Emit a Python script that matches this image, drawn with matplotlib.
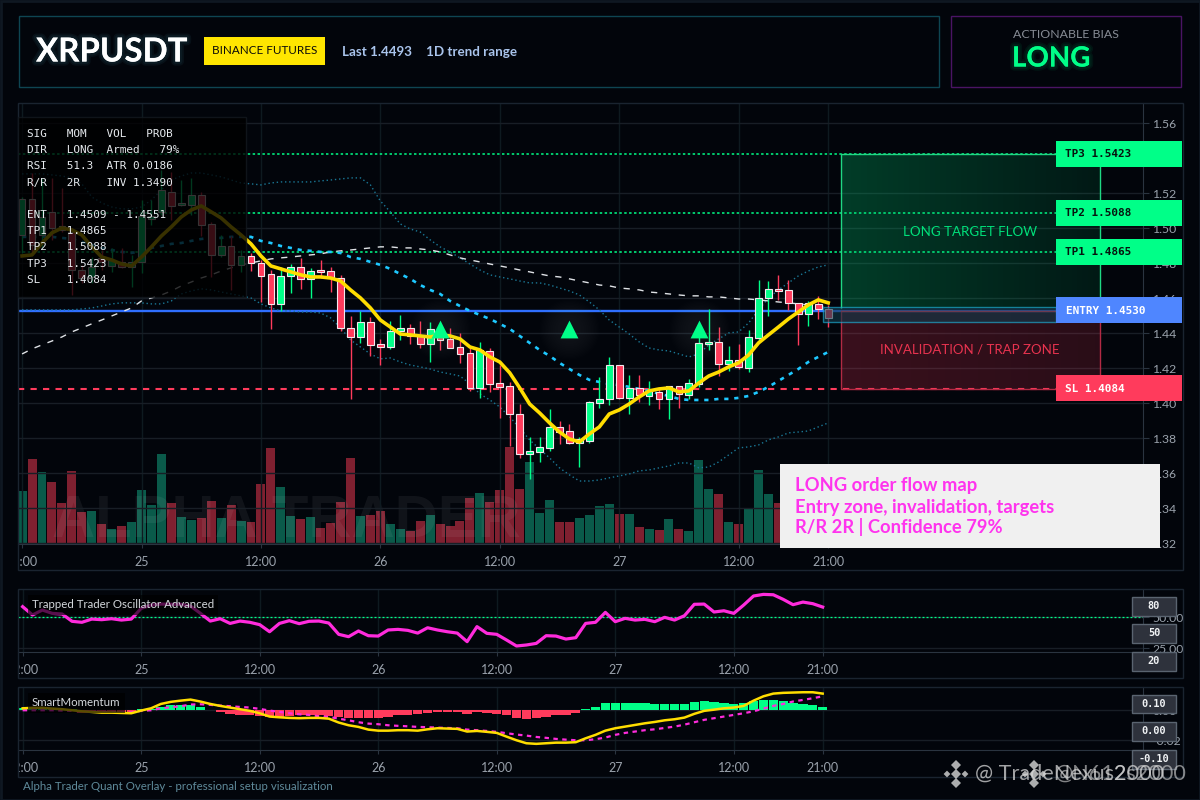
#!/usr/bin/env python
import matplotlib
matplotlib.use("Agg")
import matplotlib.pyplot as plt
import matplotlib.patheffects as pe
from matplotlib.patches import Rectangle
import numpy as np

# ---- candles, one per hour, hour 0 = day 25 00:00
opens = [1.4962,1.5168,1.4962,1.5094,1.5014,1.4979,1.4762,1.4722,1.4831,1.4785,1.4808,1.4779,
         1.4808,1.5054,1.5094,1.5208,1.5134,1.5134,1.5191,1.5025,1.4848,1.4899,1.4791,1.4842,
         1.4802,1.4739,1.4568,1.4728,1.4779,1.4711,1.4756,1.4756,1.4716,1.4431,1.4379,1.4465,
         1.4339,1.4322,1.4414,1.4431,1.4385,1.4339,1.4379,1.4368,1.4322,1.4288,1.4088,1.4299,
         1.4116,1.4099,1.3939,1.3711,1.3722,1.3745,1.3865,1.3842,1.3774,1.3785,1.4002,1.4025,
         1.4219,1.4031,1.4088,1.4042,1.4065,1.4025,1.4099,1.4048,1.4111,1.4339,1.4351,1.4225,
         1.4248,1.4202,1.4374,1.4602,1.4654,1.4648,1.4574,1.4511,1.4568,1.4539]
highs = [1.5179,1.5316,1.5288,1.5288,1.5231,1.5002,1.4791,1.4836,1.4876,1.4888,1.4888,1.4848,
         1.5162,1.5162,1.5334,1.5322,1.5276,1.5288,1.5208,1.5036,1.4962,1.4956,1.4876,1.4859,
         1.4819,1.4762,1.4779,1.4796,1.4831,1.4774,1.4819,1.4779,1.4734,1.4499,1.4528,1.4494,
         1.4368,1.4471,1.4505,1.4454,1.4471,1.4465,1.4431,1.4431,1.4402,1.4322,1.4351,1.4316,
         1.4219,1.4122,1.3996,1.3808,1.3808,1.3968,1.3899,1.3882,1.3808,1.4014,1.4151,1.4265,
         1.4219,1.4162,1.4162,1.4128,1.4094,1.4099,1.4099,1.4139,1.4391,1.4539,1.4436,1.4328,
         1.4339,1.4419,1.4705,1.4699,1.4734,1.4705,1.4574,1.4585,1.4614,1.4562]
lows = [1.4859,1.4859,1.4888,1.4934,1.4979,1.4619,1.4688,1.4688,1.4762,1.4751,1.4774,1.4665,
        1.4745,1.5019,1.5076,1.5048,1.5128,1.5076,1.4956,1.4722,1.4836,1.4648,1.4751,1.4756,
        1.4579,1.4425,1.4528,1.4631,1.4654,1.4602,1.4716,1.4636,1.4414,1.4025,1.4345,1.4271,
        1.4219,1.4311,1.4362,1.4339,1.4316,1.4236,1.4305,1.4316,1.4231,1.4071,1.4031,1.4065,
        1.3916,1.3756,1.3688,1.3568,1.3665,1.3728,1.3768,1.3768,1.3636,1.3774,1.3974,1.3991,
        1.4025,1.3939,1.4008,1.3991,1.3968,1.3911,1.3974,1.4025,1.4094,1.4305,1.4156,1.4185,
        1.4196,1.4179,1.4351,1.4499,1.4591,1.4534,1.4334,1.4442,1.4482,1.4436]
closes = [1.5168,1.4905,1.5065,1.5002,1.4991,1.4762,1.4716,1.4779,1.4808,1.4819,1.4779,1.4808,
          1.5071,1.5071,1.5219,1.5128,1.5139,1.5191,1.5019,1.4848,1.4899,1.4791,1.4842,1.4802,
          1.4728,1.4568,1.4728,1.4779,1.4711,1.4756,1.4751,1.4716,1.4431,1.4379,1.4465,1.4334,
          1.4322,1.4414,1.4431,1.4385,1.4339,1.4425,1.4362,1.4316,1.4282,1.4088,1.4305,1.4111,
          1.4094,1.3939,1.3711,1.3728,1.3751,1.3865,1.3836,1.3774,1.3796,1.4008,1.4025,1.4219,
          1.4031,1.4088,1.4048,1.4071,1.4025,1.4099,1.4054,1.4116,1.4345,1.4351,1.4225,1.4248,
          1.4208,1.4379,1.4602,1.4654,1.4642,1.4574,1.4511,1.4574,1.4539,1.4488]
volumes = [53,85,72,62,41,73,32,33,20,15,18,22,
           54,39,90,41,27,24,26,43,26,39,23,22,
           60,96,57,28,25,27,16,21,42,86,28,29,
           33,20,15,13,23,29,20,18,23,46,51,42,
           54,97,55,82,31,44,22,22,26,29,38,40,
           30,30,17,15,14,25,15,13,84,55,50,22,
           20,36,74,50,41,30,25,38,22,12]

# ---- overlays on the price pane
ema_fast = [1.4842,1.4848,1.4916,1.4974,1.5002,1.4991,1.4962,1.4894,1.4836,1.4819,1.4796,1.4785,
            1.4836,1.4894,1.4956,1.5008,1.5065,1.5105,1.5128,1.5094,1.5059,1.5008,1.4962,1.4911,
            1.4842,1.4785,1.4768,1.4751,1.4734,1.4722,1.4722,1.4716,1.4699,1.4648,1.4602,1.4545,
            1.4476,1.4436,1.4396,1.4391,1.4385,1.4379,1.4391,1.4385,1.4368,1.4322,1.4305,1.4265,
            1.4236,1.4174,1.4088,1.3996,1.3945,1.3888,1.3836,1.3796,1.3779,1.3825,1.3865,1.3939,
            1.3962,1.3996,1.4036,1.4071,1.4082,1.4088,1.4065,1.4071,1.4116,1.4156,1.4179,1.4208,
            1.4231,1.4276,1.4345,1.4391,1.4436,1.4482,1.4522,1.4562,1.4591,1.4574]
band_mid = [1.4951,1.4951,1.4951,1.4951,1.4945,1.4939,1.4922,1.4905,1.4888,1.4876,1.4865,1.4859,
            1.4871,1.4888,1.4899,1.4911,1.4916,1.4928,1.4939,1.4945,1.4945,1.4951,1.4951,1.4951,
            1.4928,1.4916,1.4899,1.4888,1.4876,1.4871,1.4865,1.4865,1.4859,1.4836,1.4825,1.4808,
            1.4791,1.4768,1.4739,1.4711,1.4676,1.4648,1.4625,1.4585,1.4556,1.4528,1.4505,1.4482,
            1.4454,1.4425,1.4385,1.4345,1.4305,1.4271,1.4231,1.4196,1.4162,1.4134,1.4122,1.4111,
            1.4105,1.4094,1.4082,1.4071,1.4054,1.4042,1.4025,1.4019,1.4019,1.4019,1.4025,1.4025,
            1.4031,1.4042,1.4065,1.4094,1.4128,1.4162,1.4196,1.4236,1.4265,1.4293]
band_up = [1.5311,1.5311,1.5311,1.5305,1.5299,1.5288,1.5254,1.5179,1.5145,1.5122,1.5111,1.5111,
           1.5122,1.5162,1.5219,1.5276,1.5299,1.5316,1.5316,1.5305,1.5294,1.5276,1.5259,1.5254,
           1.5248,1.5259,1.5265,1.5265,1.5265,1.5265,1.5271,1.5276,1.5282,1.5288,1.5288,1.5248,
           1.5156,1.5094,1.5025,1.4996,1.4979,1.4934,1.4894,1.4865,1.4831,1.4796,1.4762,1.4734,
           1.4722,1.4711,1.4699,1.4688,1.4688,1.4676,1.4659,1.4642,1.4619,1.4579,1.4534,1.4476,
           1.4436,1.4396,1.4351,1.4316,1.4305,1.4299,1.4282,1.4265,1.4282,1.4334,1.4368,1.4402,
           1.4408,1.4459,1.4534,1.4602,1.4648,1.4688,1.4728,1.4756,1.4779,1.4791]
band_low = [1.4534,1.4534,1.4534,1.4534,1.4534,1.4534,1.4539,1.4545,1.4556,1.4568,1.4574,1.4574,
            1.4574,1.4568,1.4568,1.4585,1.4625,1.4642,1.4654,1.4648,1.4636,1.4625,1.4614,1.4602,
            1.4568,1.4545,1.4528,1.4528,1.4522,1.4522,1.4516,1.4488,1.4431,1.4362,1.4322,1.4282,
            1.4254,1.4259,1.4236,1.4219,1.4208,1.4196,1.4179,1.4168,1.4156,1.4111,1.4054,1.4019,
            1.3979,1.3922,1.3859,1.3791,1.3739,1.3688,1.3631,1.3591,1.3556,1.3556,1.3562,1.3574,
            1.3585,1.3596,1.3614,1.3619,1.3631,1.3642,1.3659,1.3659,1.3631,1.3636,1.3665,1.3705,
            1.3745,1.3751,1.3762,1.3791,1.3808,1.3831,1.3836,1.3842,1.3865,1.3888]
ma_long = [1.4282,1.4311,1.4334,1.4356,1.4379,1.4408,1.4431,1.4454,1.4476,1.4499,1.4522,1.4545,
           1.4585,1.4602,1.4619,1.4642,1.4671,1.4693,1.4716,1.4734,1.4756,1.4774,1.4791,1.4802,
           1.4814,1.4825,1.4831,1.4836,1.4842,1.4848,1.4854,1.4865,1.4871,1.4876,1.4882,1.4888,
           1.4894,1.4894,1.4888,1.4888,1.4882,1.4876,1.4865,1.4848,1.4831,1.4819,1.4808,1.4796,
           1.4785,1.4774,1.4762,1.4751,1.4739,1.4728,1.4722,1.4711,1.4699,1.4688,1.4676,1.4671,
           1.4659,1.4654,1.4648,1.4636,1.4631,1.4625,1.4619,1.4614,1.4614,1.4608,1.4608,1.4602,
           1.4596,1.4596,1.4591,1.4585,1.4579,1.4574,1.4568,1.4562,1.4556,1.4551]
signal_hours = [30, 43, 56]
signal_price = [1.4425, 1.4425, 1.4425]

levels = {"TP3": 1.5423, "TP2": 1.5088, "TP1": 1.4865}
entry_price = 1.4530
sl_price = 1.4084

# ---- oscillator pane
osc = [58.6,51.9,55.9,53.2,52.7,46.8,46.0,48.6,48.1,48.9,47.8,48.6,
       57.2,59.9,60.7,60.5,60.5,59.1,53.2,47.0,48.9,45.1,47.0,46.0,
       44.1,38.4,45.1,47.3,44.9,46.8,47.0,45.4,36.3,34.4,39.0,35.2,
       34.9,39.8,40.3,39.5,37.3,41.6,39.8,38.4,37.3,30.4,42.5,37.1,
       36.3,31.7,26.9,27.7,29.0,35.2,34.9,32.5,33.6,45.1,46.0,54.0,
       46.5,49.2,47.8,48.4,46.5,50.0,47.8,51.3,60.5,60.7,54.3,55.3,
       53.2,59.9,67.2,68.5,68.2,64.5,60.2,62.3,61.0,58.3]

# ---- momentum pane
mom_hist = [.0018,.0016,.0016,.0013,.0011,.0009,-.0016,-.0018,-.0018,-.0018,-.0016,-.0013,
            .0007,.0009,.0024,.0033,.0038,.0033,.0024,.0001,-.0011,-.0024,-.0031,-.0031,
            -.0036,-.0042,-.0047,-.0038,-.0033,-.0033,-.0029,-.0036,-.0042,-.0049,-.0049,-.0051,
            -.0051,-.0047,-.0031,-.0031,-.0024,-.002,-.0011,-.0011,-.0011,-.0024,-.0013,-.002,
            -.0027,-.0033,-.0049,-.0058,-.0049,-.0047,-.0031,-.0029,-.002,.0009,.0022,.0049,
            .0049,.0049,.0049,.0049,.0042,.0042,.0042,.0042,.0056,.0062,.0056,.0049,
            .0042,.0049,.0062,.0069,.0069,.0062,.0049,.0042,.0033,.0022]
mom_line = [.0013,.0016,.0016,.0011,.0007,0,-.0007,-.0011,-.0016,-.0016,-.0018,-.002,
            -.0002,.0013,.0042,.0056,.0064,.0071,.0058,.0042,.0029,.0018,.0007,-.0004,
            -.002,-.0042,-.0047,-.0051,-.0053,-.0051,-.0051,-.0056,-.0082,-.01,-.0111,-.0129,
            -.0136,-.0136,-.0133,-.0133,-.0136,-.0127,-.012,-.0122,-.0124,-.0142,-.0138,-.0144,
            -.0151,-.0176,-.02,-.022,-.0224,-.022,-.0216,-.0216,-.0213,-.0187,-.0164,-.0136,
            -.012,-.0109,-.0098,-.0087,-.0078,-.0067,-.006,-.0049,-.0024,-.0004,.0004,.0013,
            .0018,.0029,.0064,.0093,.0111,.0116,.0118,.012,.012,.0111]
mom_signal = [0,0,0,0,-.0002,-.0004,-.0007,-.0009,-.0011,-.0011,-.0013,-.0013,
              -.0004,0,.0013,.002,.0027,.0038,.004,.0036,.0031,.0027,.0022,.0018,
              .0009,-.0002,-.0011,-.002,-.0027,-.0031,-.004,-.0044,-.0056,-.0067,-.008,-.0089,
              -.0093,-.01,-.0104,-.0107,-.0111,-.0113,-.0116,-.0118,-.012,-.0129,-.0133,-.0138,
              -.0144,-.0153,-.0162,-.0169,-.0178,-.0184,-.0191,-.0196,-.02,-.02,-.0193,-.0182,
              -.0164,-.0151,-.0142,-.0133,-.0127,-.0118,-.0109,-.0096,-.008,-.0064,-.0053,-.0042,
              -.0031,-.002,-.0007,.0011,.0029,.0042,.0058,.0069,.008,.0093]

time_ticks = [-12, 0, 12, 24, 36, 48, 60, 69]
time_labels = ["12:00", "25", "12:00", "26", "12:00", "27", "12:00", "21:00"]
price_ticks = [1.32, 1.34, 1.36, 1.38, 1.40, 1.42, 1.44, 1.46, 1.48, 1.50, 1.52, 1.56]

table_rows = [("SIG   MOM   VOL   PROB", 134), ("DIR   LONG  Armed   79%", 150),
              ("RSI   51.3  ATR 0.0186", 166), ("R/R   2R    INV 1.3490", 183),
              ("ENT   1.4509 - 1.4551", 215), ("TP1   1.4865", 231),
              ("TP2   1.5088", 247), ("TP3   1.5423", 264), ("SL    1.4084", 280)]
box_lines = ["LONG order flow map", "Entry zone, invalidation, targets", "R/R 2R | Confidence 79%"]

BG = "#02050b"
RED = "#ff3b5c"
GREEN = "#00ff88"
GRID_H = "#181e26"
GRID_V = "#0e1a20"
AXIS = "#2a3440"
TICK = "#9aa2ac"
UI_FONT = ["Lato", "DejaVu Sans"]
MONO = "DejaVu Sans Mono"

hours = np.arange(-12, -12 + len(closes))


def px_axes(left, top, right, bottom):
    return fig.add_axes([left / 1200, 1 - bottom / 800, (right - left) / 1200, (bottom - top) / 800])


def style_pane(ax, xlim, ylim, yticks, ylabels):
    ax.set_xlim(*xlim)
    ax.set_ylim(*ylim)
    ax.set_facecolor("none")
    for s in ["top", "left"]:
        ax.spines[s].set_visible(False)
    for s in ["right", "bottom"]:
        ax.spines[s].set_color(AXIS)
    ax.set_xticks(time_ticks)
    ax.set_xticklabels(time_labels, fontsize=9.0, color=TICK, family=UI_FONT)
    ax.yaxis.tick_right()
    ax.set_yticks(yticks)
    ax.set_yticklabels(ylabels, fontsize=8.8, color=TICK, family=UI_FONT)
    ax.tick_params(axis="x", length=3, pad=6, color=AXIS)
    ax.tick_params(axis="y", length=4, pad=3, color=AXIS)
    ax.grid(axis="y", color=GRID_H, lw=1)
    ax.grid(axis="x", color=GRID_V, lw=1)
    ax.set_axisbelow(True)


def glow(width, color, alpha=0.1):
    return [pe.withStroke(linewidth=w, foreground=color, alpha=alpha) for w in (width, width * 0.6)]


fig = plt.figure(figsize=(12, 8), dpi=100, facecolor=BG)

# volume goes behind the price pane, scale is independent
ax_vol = px_axes(18, 103, 1142.7, 544)
ax_vol.set_xlim(-12.41, 100.6)
ax_vol.set_ylim(0, 441)
ax_vol.axis("off")
vol_colors = ["#0a5a4a" if c >= o else "#7f2030" for o, c in zip(opens, closes)]
ax_vol.bar(hours, volumes, width=0.9, color=vol_colors, zorder=2)
ax_vol.text(0.03, -0.012, "ALPHA TRADER", transform=ax_vol.transAxes, fontsize=43, fontweight="bold",
            family="Liberation Sans", color="white", alpha=0.06, va="bottom", ha="left", zorder=3, clip_on=True)

ax = px_axes(18, 103, 1142.7, 544)
ax.set_zorder(2)
style_pane(ax, (-12.41, 100.6), (1.3196, 1.5716), price_ticks, ["%.2f" % p for p in price_ticks])

# level lines
for name, price in levels.items():
    ax.axhline(price, color=GREEN, lw=1.1, ls=(0, (1.6, 1.6)), zorder=1.5)
ax.axhline(entry_price, color="#2f6fff", lw=1.7, zorder=1.6)
ax.axhline(sl_price, color=RED, lw=1.5, ls=(0, (3, 3)), zorder=1.6)

ax.plot(hours, band_up, color="#1a7896", lw=1.0, ls=(0, (1, 2)), zorder=2)
ax.plot(hours, band_low, color="#1a7896", lw=1.0, ls=(0, (1, 2)), zorder=2)
ax.plot(hours, ma_long, color="#dfe2e6", lw=1.0, ls=(0, (4.5, 5.5)), zorder=2)
ax.plot(hours, band_mid, color="#1ec8ff", lw=1.9, ls=(0, (1.6, 2.2)), zorder=2)

# candles
for h, o, hi, lo, c in zip(hours, opens, highs, lows, closes):
    col = GREEN if c >= o else RED
    ax.vlines(h, lo, hi, color=col, lw=1.0, zorder=3)
    ax.bar(h, max(abs(c - o), 0.0008), bottom=min(o, c), width=0.68, color=col,
           edgecolor="#f4e8ee", linewidth=0.8, zorder=3.2)

ax.plot(hours, ema_fast, color="#ffdd00", lw=2.6, solid_joinstyle="round", zorder=4)

# signal triangles with a soft halo
for s in np.linspace(300, 1900, 12):
    ax.scatter(signal_hours, signal_price, s=s, color="#9fffd0", alpha=0.008, linewidths=0, zorder=4.5)
ax.scatter(signal_hours, signal_price, s=165, marker="^", color=GREEN, linewidths=0, zorder=5)

ax_osc = px_axes(18, 589.3, 1142.7, 651.7)
style_pane(ax_osc, (-12.47, 101.4), (22.3, 72.6), [25, 50], ["25.00", "50.00"])
ax_osc.axhline(50, color=GREEN, lw=0.9, ls=(0, (1.6, 1.6)), zorder=2)
ax_osc.plot(hours, osc, color="#ff2bdc", lw=2.3, zorder=3)

ax_mom = px_axes(18, 687.3, 1142.7, 750)
style_pane(ax_mom, (-12.47, 101.4), (-0.0265, 0.0153), [-0.02, 0.0], ["-0.02", "0.00"])
hist_colors = [GREEN if v >= 0 else RED for v in mom_hist]
ax_mom.bar(hours, mom_hist, width=0.94, color=hist_colors, zorder=2)
ax_mom.plot(hours, mom_signal, color="#ff2bdc", lw=1.6, ls=(0, (2, 2)), zorder=3)
ax_mom.plot(hours, mom_line, color="#ffdd00", lw=1.8, zorder=4)

# ---- everything below is page furniture, placed in pixels
ov = fig.add_axes([0, 0, 1, 1], zorder=10)
ov.patch.set_visible(False)
ov.axis("off")
ov.set_xlim(0, 1200)
ov.set_ylim(800, 0)


def py(price):
    return ov.transData.inverted().transform(ax.transData.transform((0, price)))[1]


def frame(x0, y0, x1, y1, edge, face="none", lw=1.0, z=1, alpha=None):
    ov.add_patch(Rectangle((x0, y0), x1 - x0, y1 - y0, edgecolor=edge, facecolor=face, lw=lw, zorder=z, alpha=alpha))


def gradient(x0, y0, x1, y1, rgb, a_left, a_right, z=1):
    g = np.zeros((2, 64, 4))
    g[..., :3] = rgb
    g[..., 3] = np.linspace(a_left, a_right, 64)
    ov.imshow(g, extent=(x0, x1, y1, y0), aspect="auto", zorder=z, interpolation="bilinear")


# mask of the clipped first time label and outer frames
for top, bottom in [(545, 569), (653, 677), (751, 775)]:
    frame(2, top, 18, bottom, "none", BG, z=1)
frame(0.5, 0.5, 1199.5, 799.5, "#0f1822", lw=2, z=1)
frame(18, 103, 1182.5, 570, "#1a2430", z=2)
frame(18, 589.3, 1182.5, 678.3, "#1a2430", z=2)
frame(18, 687.3, 1182.5, 776.7, "#1a2430", z=2)

# header
frame(19, 15.5, 939, 86.5, "#0e4552", z=2)
frame(951, 15.5, 1181, 86.5, "#4a1464", z=2)
ov.text(36, 52, "XRPUSDT", fontsize=23.8, fontweight="bold", family=UI_FONT, color="white", va="center",
        path_effects=glow(6, "#66ddff", 0.05))
frame(204, 37, 325, 65, "none", "#ffe600", z=2)
ov.text(264.5, 51, "BINANCE FUTURES", fontsize=8.4, family=UI_FONT, color="#0a0a0a", ha="center", va="center", zorder=3)
ov.text(342, 51.5, "Last 1.4493", fontsize=9.6, family=UI_FONT, color="#a9c4ec", va="center", fontweight="bold")
ov.text(426, 51.5, "1D trend range", fontsize=9.6, family=UI_FONT, color="#a9c4ec", va="center", fontweight="bold")
ov.text(1065.5, 34, "ACTIONABLE BIAS", fontsize=8.9, family=UI_FONT, color="#878c95", ha="center", va="center")
ov.text(1012, 58.5, "LONG", fontsize=20, fontweight="bold", family=UI_FONT, color=GREEN, va="center",
        path_effects=glow(6, GREEN, 0.06))

# dark table over the left of the chart
frame(18, 117, 246, 297, "#141a20", "#000000", z=3, alpha=0.78)
for row, y in table_rows:
    ov.text(27, y, row, fontsize=7.9, family=MONO, color="#e6eaee", va="center", zorder=4)

# target / invalidation zones
y_tp3, y_entry, y_sl = py(levels["TP3"]), py(entry_price), py(sl_price)
gradient(841, y_tp3, 1100, y_entry - 3, (0.0, 0.75, 0.42), 0.3, 0.11, z=2)
gradient(841, y_entry, 1100, y_sl, (1.0, 0.22, 0.36), 0.22, 0.16, z=2)
ov.plot([841, 841, 1100, 1100], [y_entry - 3, y_tp3, y_tp3, y_entry - 3], color="#1fd884", lw=1.0, zorder=3)
ov.plot([841, 841, 1100, 1100], [y_entry, y_sl, y_sl, y_entry], color="#b22a44", lw=1.0, zorder=3)
ov.plot([841, 1056], [y_entry, y_entry], color=RED, lw=0.9, zorder=3)
frame(823, 307.3, 1056, 322.3, "#1fb8e0", "#123a4a", z=3, alpha=0.62)
ov.text(970.5, 232, "LONG TARGET FLOW", fontsize=9.6, family=UI_FONT, color="#00e07a", ha="center", va="center", zorder=4)
ov.text(970, 349, "INVALIDATION / TRAP ZONE", fontsize=9.5, family=UI_FONT, color="#e8334f", ha="center", va="center", zorder=4)

# level tags
for name, price in levels.items():
    y = py(price)
    frame(1056, y - 13, 1182, y + 13, "none", GREEN, z=5)
    ov.text(1065, y, "%s %.4f" % (name, price), fontsize=7.9, family=MONO, color="#06140e", va="center", zorder=6,
            fontweight="bold")
y = py(entry_price)
frame(1056, y - 13.5, 1182, y + 12, "none", "#4f86ff", z=5)
ov.text(1066, y, "ENTRY %.4f" % entry_price, fontsize=7.9, family=MONO, fontweight="bold", color="white", va="center", zorder=6)
y = py(sl_price)
frame(1056, y - 13.5, 1182, y + 12.5, "none", RED, z=5)
ov.text(1065, y, "SL %.4f" % sl_price, fontsize=7.9, family=MONO, fontweight="bold", color="white", va="center", zorder=6)

# white note
frame(780, 464, 1160, 547.7, "none", "#f0f0f0", z=7)
for line, y in zip(box_lines, [486, 507, 527]):
    ov.text(795, y, line, fontsize=13.2, family=UI_FONT, fontweight="bold", color="#ff33ee", va="center", zorder=8)

# pane titles
ov.text(32, 605, "Trapped Trader Oscillator Advanced", fontsize=8.3, family=UI_FONT, color="#d4d8dc", va="center", zorder=6,
        bbox=dict(facecolor="#000000", alpha=0.65, edgecolor="none", pad=3))
ov.text(32, 703, "SmartMomentum", fontsize=8.3, family=UI_FONT, color="#d4d8dc", va="center", zorder=6,
        bbox=dict(facecolor="#000000", alpha=0.65, edgecolor="none", pad=3))

# scale chips
for label, y0, y1 in [("80", 597, 615.7), ("50", 624, 643), ("20", 652, 671),
                      ("0.10", 695, 713), ("0.00", 722, 741), ("-0.10", 750, 769)]:
    frame(1132, y0, 1176, y1, "#5a6470", "#2e323c", z=6)
    ov.text(1154, (y0 + y1) / 2, label, fontsize=7.4, family=MONO, fontweight="bold", color="#f0f2f4", ha="center", va="center", zorder=7)

ov.text(23, 787, "Alpha Trader Quant Overlay - professional setup visualization", fontsize=8.3, family=UI_FONT, color="#5f8a9a", va="center", zorder=6)

# reposted-image watermark, two layers on top of each other
for cx, cy in [(956, 774), (1034, 774)]:
    ov.scatter([cx, cx - 9, cx + 9, cx, cx], [cy, cy, cy, cy - 9, cy + 9], s=[26, 12, 12, 26, 26], marker="D",
               color="#d8d8d8", alpha=0.8, linewidths=0, zorder=9)
ov.text(975, 774, "@ TradeNexus2000", fontsize=15.6, family=UI_FONT, color="#d8d8d8", alpha=0.75, va="center", zorder=9)
ov.text(1055, 774, "@N612s2000", fontsize=15.6, family=UI_FONT, color="#d8d8d8", alpha=0.6, va="center", zorder=9)

ov.set_xlim(0, 1200)
ov.set_ylim(800, 0)
fig.savefig("out.png", dpi=100, facecolor=BG)
